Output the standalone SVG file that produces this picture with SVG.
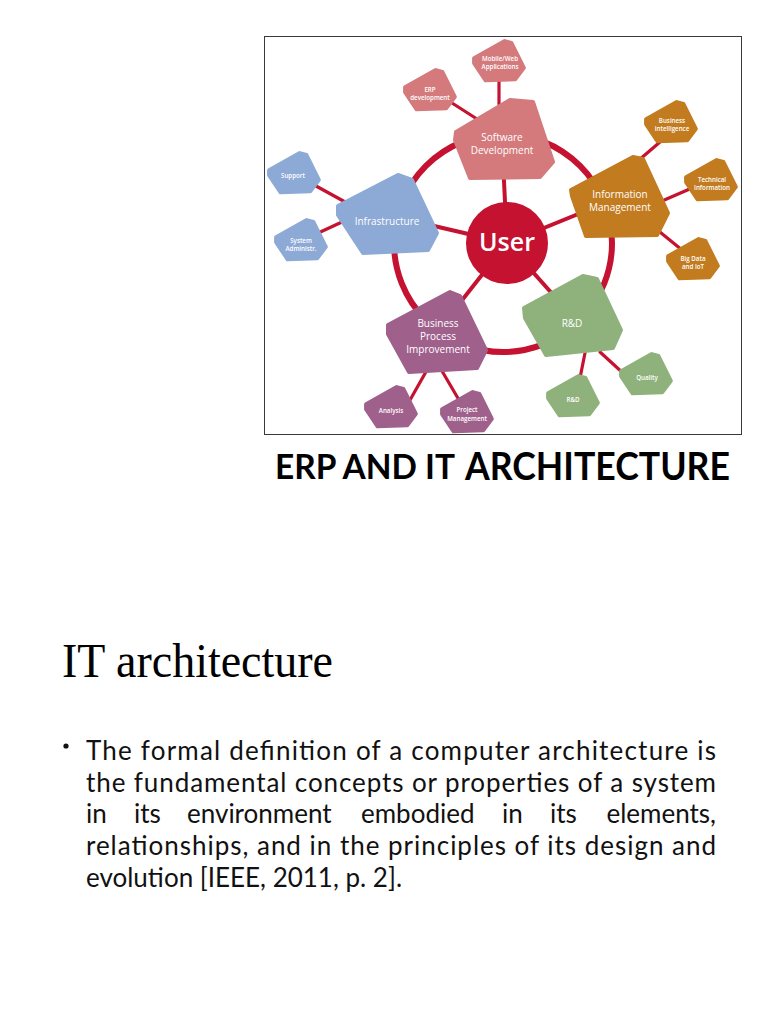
<svg xmlns="http://www.w3.org/2000/svg" width="768" height="1024" viewBox="0 0 768 1024">
<defs>
<style>
.frame{fill:#fff;stroke:#3a3a3a;stroke-width:1}
.ring{fill:none;stroke:#C41230;stroke-width:6}
.spoke{stroke:#C41230;stroke-width:4;stroke-linecap:round}
.link{stroke:#C41230;stroke-width:3.2;stroke-linecap:round}
.sd{fill:#D47A7C;stroke:#D47A7C}
.im{fill:#C27B1F;stroke:#C27B1F}
.inf{fill:#8DA9D5;stroke:#8DA9D5}
.bpi{fill:#A0608C;stroke:#A0608C}
.rd{fill:#8FB27C;stroke:#8FB27C}
.shape{stroke-width:4;stroke-linejoin:round}
.big{font-family:"Open Sans","Liberation Sans",sans-serif;font-size:10px;fill:#fff;text-anchor:middle}
.small{font-family:"Open Sans","Liberation Sans",sans-serif;font-size:6.2px;font-weight:600;fill:#fff;text-anchor:middle}
.body{font-family:Lato,"Open Sans",sans-serif;font-size:26px;fill:#111}
</style>
<path id="sm" d="M0,18 L32,0 L39,2 L52,28 L43,40 L12,41 L0,23 Z"/>
</defs>
<rect x="0" y="0" width="768" height="1024" fill="#fff"/>
<rect class="frame" x="264.5" y="36.5" width="477" height="398"/>

<g id="connectors">
<circle class="ring" cx="503" cy="243" r="109"/>
<line class="spoke" x1="507" y1="243" x2="502" y2="140"/>
<line class="spoke" x1="507" y1="243" x2="620" y2="197"/>
<line class="spoke" x1="507" y1="243" x2="387" y2="215"/>
<line class="spoke" x1="507" y1="243" x2="437" y2="332"/>
<line class="spoke" x1="507" y1="243" x2="572" y2="316"/>
<line class="link" x1="499" y1="78" x2="499" y2="104"/>
<line class="link" x1="452" y1="103" x2="477" y2="119"/>
<line class="link" x1="639" y1="160" x2="660" y2="142"/>
<line class="link" x1="662" y1="201" x2="692" y2="188"/>
<line class="link" x1="655" y1="228" x2="682" y2="250"/>
<line class="link" x1="316" y1="186" x2="347" y2="203"/>
<line class="link" x1="316" y1="234" x2="342" y2="222"/>
<line class="link" x1="410" y1="400" x2="427" y2="370"/>
<line class="link" x1="442" y1="371" x2="459" y2="400"/>
<line class="link" x1="585" y1="353" x2="580" y2="378"/>
<line class="link" x1="600" y1="352" x2="624" y2="374"/>
</g>

<g id="user">
<circle cx="507" cy="243" r="41" fill="#C41230"/>
<text x="507" y="251" font-family="'Open Sans','Liberation Sans',sans-serif" font-size="25" font-weight="600" fill="#fff" text-anchor="middle">User</text>
</g>

<g id="software-development">
<path class="sd shape" d="M456,132 L510,100 L533,102 L553,162 L540,177 L470,178 L455,140 Z"/>
<text class="big" x="502" y="141">Software</text>
<text class="big" x="502" y="154">Development</text>
</g>
<g id="information-management">
<path class="im shape" d="M571,190 L633,157 L643,159 L668,213 L657,235 L586,236 L572,196 Z"/>
<text class="big" x="620" y="198">Information</text>
<text class="big" x="620" y="211">Management</text>
</g>
<g id="infrastructure">
<path class="inf shape" d="M338,206 L398,175 L412,180 L437,233 L428,250 L363,253 L338,215 Z"/>
<text class="big" x="387" y="225">Infrastructure</text>
</g>
<g id="business-process-improvement">
<path class="bpi shape" d="M388,325 L450,292 L460,296 L486,350 L477,368 L409,372 L388,334 Z"/>
<text class="big" x="438" y="327">Business</text>
<text class="big" x="438" y="340">Process</text>
<text class="big" x="438" y="353">Improvement</text>
</g>
<g id="rd">
<path class="rd shape" d="M524,308 L583,276 L597,279 L621,330 L613,348 L546,355 L525,318 Z"/>
<text class="big" x="572" y="327">R&amp;D</text>
</g>

<g id="mobile-web">
<use href="#sm" class="sd shape" transform="translate(474,41) scale(0.96)"/>
<text class="small" x="500" y="61">Mobile/Web</text>
<text class="small" x="500" y="69">Applications</text>
</g>
<g id="erp-development">
<use href="#sm" class="sd shape" transform="translate(405,70) scale(0.96)"/>
<text class="small" x="430" y="92">ERP</text>
<text class="small" x="430" y="100">development</text>
</g>
<g id="business-intelligence">
<use href="#sm" class="im shape" transform="translate(646,102) scale(0.96)"/>
<text class="small" x="672" y="123">Business</text>
<text class="small" x="672" y="131">intelligence</text>
</g>
<g id="technical-information">
<use href="#sm" class="im shape" transform="translate(686,160) scale(0.96)"/>
<text class="small" x="712" y="182">Technical</text>
<text class="small" x="712" y="190">Information</text>
</g>
<g id="big-data">
<use href="#sm" class="im shape" transform="translate(668,239) scale(0.96)"/>
<text class="small" x="693" y="261">Big Data</text>
<text class="small" x="693" y="269">and IoT</text>
</g>
<g id="support">
<use href="#sm" class="inf shape" transform="translate(269,153) scale(0.96)"/>
<text class="small" x="293" y="178">Support</text>
</g>
<g id="system-admin">
<use href="#sm" class="inf shape" transform="translate(276,220) scale(0.96)"/>
<text class="small" x="301" y="243">System</text>
<text class="small" x="301" y="251">Administr.</text>
</g>
<g id="analysis">
<use href="#sm" class="bpi shape" transform="translate(366,387) scale(0.96)"/>
<text class="small" x="391" y="413">Analysis</text>
</g>
<g id="project-management">
<use href="#sm" class="bpi shape" transform="translate(442,392) scale(0.96)"/>
<text class="small" x="467" y="412">Project</text>
<text class="small" x="467" y="421">Management</text>
</g>
<g id="quality">
<use href="#sm" class="rd shape" transform="translate(621,354) scale(0.96)"/>
<text class="small" x="647" y="380">Quality</text>
</g>
<g id="rd-small">
<use href="#sm" class="rd shape" transform="translate(548,376) scale(0.96)"/>
<text class="small" x="573" y="402">R&amp;D</text>
</g>

<g id="title">
<text y="479" font-family="Lato,'Open Sans',sans-serif" font-weight="700" fill="#000"><tspan x="275" font-size="35" textLength="180" lengthAdjust="spacingAndGlyphs">ERP AND IT</tspan><tspan x="465" y="480" font-size="38" textLength="265" lengthAdjust="spacingAndGlyphs">ARCHITECTURE</tspan></text>
</g>

<g id="heading">
<text x="62" y="677" font-family="'Liberation Serif','Times New Roman',serif" font-size="48" fill="#000" textLength="271" lengthAdjust="spacingAndGlyphs">IT architecture</text>
</g>

<g id="body">
<circle cx="66" cy="746" r="2.6" fill="#111"/>
<text class="body" x="86" y="760" textLength="630" lengthAdjust="spacing">The formal definition of a computer architecture is</text>
<text class="body" x="86" y="792" textLength="630" lengthAdjust="spacing">the fundamental concepts or properties of a system</text>
<text class="body" y="823"><tspan x="86">in</tspan><tspan x="134">its</tspan><tspan x="187">environment</tspan><tspan x="361">embodied</tspan><tspan x="502">in</tspan><tspan x="550">its</tspan></text>
<text class="body" x="716" y="823" text-anchor="end">elements,</text>
<text class="body" x="86" y="855" textLength="630" lengthAdjust="spacing">relationships, and in the principles of its design and</text>
<text class="body" x="86" y="887">evolution [IEEE, 2011, p. 2].</text>
</g>
</svg>
